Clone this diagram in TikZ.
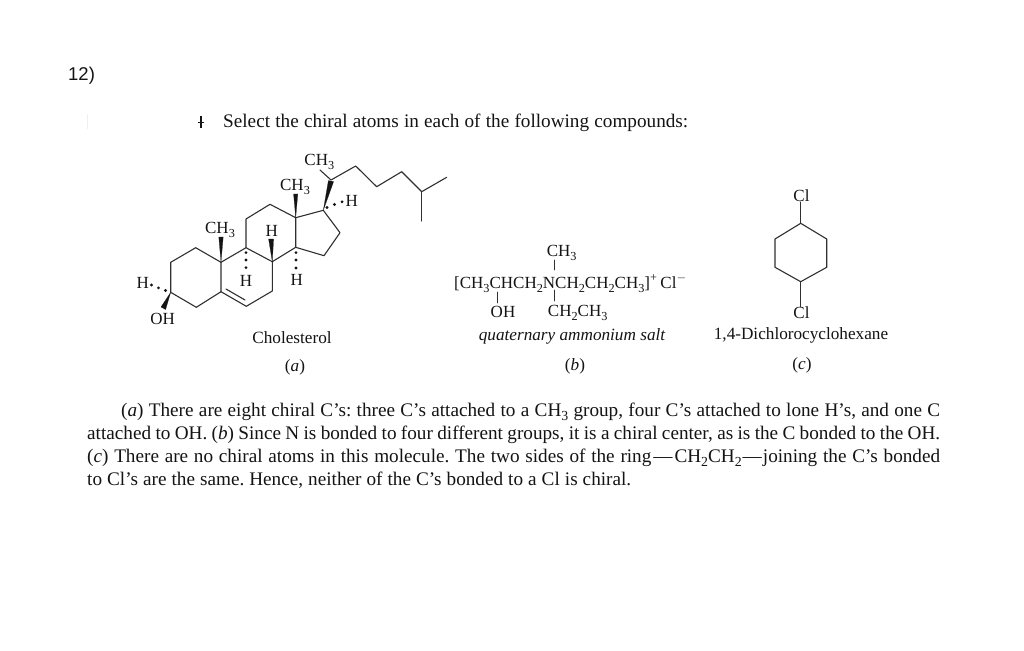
\documentclass[tikz,border=0pt]{standalone}
\usepackage{fontspec}
\setmainfont{Liberation Serif}
\newfontfamily\arialf{Liberation Sans}
\newcommand\lo[1]{\raisebox{-.24em}{\scalebox{.72}{#1}}}
\newcommand\hi[1]{\raisebox{.42em}{\scalebox{.72}{#1}}}
\newcommand\fs[1]{\fontsize{#1}{#1}\selectfont}
\definecolor{ink}{HTML}{141414}
\definecolor{bondc}{HTML}{303030}
\tikzset{
  bond/.style={draw=bondc,line width=1.1pt,line cap=round,line join=round},
  wedgeb/.style={fill=ink,draw=ink,line width=.2pt},
  dotb/.style={fill=ink,draw=none},
  chem/.style={inner sep=0pt,text=ink,font=\fs{17}},
  capt/.style={inner sep=0pt,text=ink,font=\fs{17.2}},
  para/.style={inner sep=0pt,anchor=base west,text=ink,font=\frenchspacing\fs{19.2}},
}
\begin{document}
\begin{tikzpicture}[x=1pt,y=-1pt]
\useasboundingbox[fill=white] (0,0) rectangle (1024,650);

% heading
\node[inner sep=0pt,anchor=base west,text=ink,font=\arialf\fs{18.5}] (num) at (68,81) {12)};
\node[para] (sel) at (223,128) {\hbox to 465pt{Select the chiral atoms in each of the following compounds:}};
\coordinate (ma) at (201,116); \coordinate (mb) at (201,128);
\coordinate (mc) at (198,122); \coordinate (md) at (204,122);
\draw[draw=ink,line width=1.3pt] (ma) -- (mb);
\draw[draw=ink,line width=.8pt] (mc) -- (md);
\coordinate (fa) at (87,114); \coordinate (fb) at (87,129);
\draw[draw=black!6,line width=.6pt] (fa) -- (fb);

% Cholesterol atoms
\coordinate (c3) at (170.7,292.3);
\coordinate (c2) at (170.7,262.3);
\coordinate (c1) at (195.7,247.7);
\coordinate (c10) at (221,262.3);
\coordinate (c5) at (221,291.7);
\coordinate (c4) at (196.3,307.3);
\coordinate (c6) at (246.3,306.3);
\coordinate (c7) at (272.3,291);
\coordinate (c8) at (272.3,261.7);
\coordinate (c9) at (246,247.7);
\coordinate (c11) at (246,219);
\coordinate (c12) at (270,204.3);
\coordinate (c13) at (295.7,217.7);
\coordinate (c14) at (295.7,247.3);
\coordinate (c15) at (324,255.7);
\coordinate (c16) at (340,232.7);
\coordinate (c17) at (323.3,210.3);
\coordinate (c20) at (331,180);
\coordinate (c21) at (320,170);
\coordinate (c22) at (355.7,166);
\coordinate (c23) at (376.7,186.7);
\coordinate (c24) at (401.7,171.7);
\coordinate (c25) at (421.7,191.7);
\coordinate (c26) at (446.7,177.3);
\coordinate (c27) at (421.7,221);
\coordinate (d1a) at (226,289);
\coordinate (d2) at (245,300);

\draw[bond] (c3) -- (c2) -- (c1) -- (c10) -- (c5) -- (c4) -- (c3);
\draw[bond] (c5) -- (c6) -- (c7) -- (c8) -- (c9) -- (c10);
\draw[bond] (d1a) -- (d2);
\draw[bond] (c9) -- (c11) -- (c12) -- (c13) -- (c14) -- (c8);
\draw[bond] (c14) -- (c15) -- (c16) -- (c17) -- (c13);
\draw[bond] (c21) -- (c20) -- (c22) -- (c23) -- (c24) -- (c25) -- (c26);
\draw[bond] (c25) -- (c27);

% wedges
\fill[wedgeb] (c13) -- (293.6,194) -- (297.8,194) -- cycle;
\fill[wedgeb] (c10) -- (218.8,237) -- (223.2,237) -- cycle;
\fill[wedgeb] (c8) -- (268.6,239) -- (273.6,239) -- cycle;
\fill[wedgeb] (c17) -- (328.4,180.6) -- (333.6,181.6) -- cycle;
\fill[wedgeb] (c3) -- (161,307) -- (165.6,309.5) -- cycle;

% hashed (dots)
\foreach \p in {(246,252.6),(246,260),(246,267.6),(296,252.6),(296,260),(296,268),
  (327,207.5),(334.5,204.5),(342,201.8),(151.5,285),(158.5,287.8),(165.5,290.5)}
  \fill[dotb] \p circle (1.55);

% Cholesterol labels
\node[chem] (hb) at (246,280.5) {H};
\node[chem] (hd) at (296.7,279.5) {H};
\node[chem] (hc) at (271.7,231) {H};
\node[chem] (me1) at (220,230) {CH\lo{3}};
\node[chem] (me2) at (295,187) {CH\lo{3}};
\node[chem] (me3) at (319.3,162) {CH\lo{3}};
\node[chem] (hs) at (351.7,201) {H};
\node[chem] (ha) at (142.7,283) {H};
\node[chem] (oh) at (162.7,319) {OH};
\node[capt] (chol) at (292,338) {Cholesterol};
\node[capt] (capa) at (295,367) {(\textit{a})};

% (b)
\node[chem,anchor=base west] (ammo) at (454,288.5) {\hbox to 232pt{[CH\lo{3}CHCH\lo{2}NCH\lo{2}CH\lo{2}CH\lo{3}]\hi{+}\hfil Cl\hi{$-$}}};
\node[chem] (bme) at (561.7,253) {CH\lo{3}};
\node[chem] (boh) at (503,312) {OH};
\node[chem] (bet) at (577.7,312.5) {CH\lo{2}CH\lo{3}};
\coordinate (n1) at (554,260); \coordinate (n2) at (554,270);
\coordinate (n3) at (554,290); \coordinate (n4) at (554,301);
\coordinate (o1) at (497,292); \coordinate (o2) at (497,303);
\draw[bond,line width=.7pt] (n1) -- (n2);
\draw[bond,line width=.7pt] (n3) -- (n4);
\draw[bond,line width=.7pt] (o1) -- (o2);
\node[capt,font=\itshape\fs{17.2}] (quat) at (572,336.5) {quaternary ammonium salt};
\node[capt] (capb) at (575,366) {(\textit{b})};

% (c)
\coordinate (r1) at (800.7,223.3);
\coordinate (r2) at (826.7,239);
\coordinate (r3) at (826.7,267.3);
\coordinate (r4) at (800.7,281.7);
\coordinate (r5) at (775,267.3);
\coordinate (r6) at (775,239);
\node[chem] (cl1) at (801.5,196) {Cl};
\node[chem] (cl2) at (801.5,313) {Cl};
\draw[bond] (r1) -- (r2) -- (r3) -- (r4) -- (r5) -- (r6) -- cycle;
\draw[bond] (r1) -- (cl1.south -| r1);
\draw[bond] (r4) -- (cl2.north -| r4);
\node[capt] (dich) at (801,335) {1,4-Dichlorocyclohexane};
\node[capt] (capc) at (802,365) {(\textit{c})};

% paragraph
\node[para] (l1) at (121,416) {\hbox to 819pt{(\textit{a}) There are eight chiral C’s: three C’s attached to a CH\lo{3} group, four C’s attached to lone H’s, and one C}};
\node[para] (l2) at (87,439) {\hbox to 853pt{attached to OH. (\textit{b}) Since N is bonded to four different groups, it is a chiral center, as is the C bonded to the OH.}};
\node[para] (l3) at (87,462) {\hbox to 853pt{(\textit{c}) There are no chiral atoms in this molecule. The two sides of the ring\kern2pt—\kern2pt CH\lo{2}CH\lo{2}\kern1pt—\kern1pt joining the C’s bonded}};
\node[para] (l4) at (87,485) {\hbox to 544pt{to Cl’s are the same. Hence, neither of the C’s bonded to a Cl is chiral.}};
\end{tikzpicture}
\end{document}
